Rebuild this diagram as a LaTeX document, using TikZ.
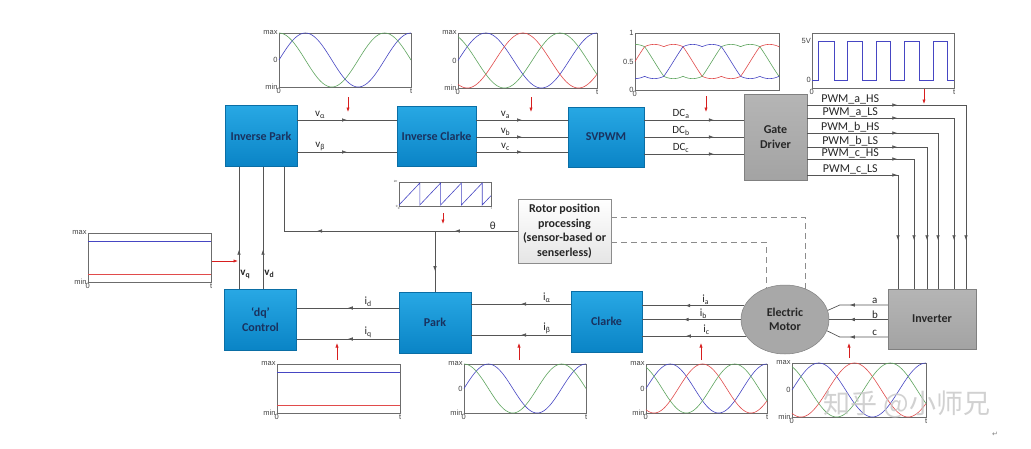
\documentclass[tikz,border=0pt]{standalone}
\usepackage{fontspec}
\setmainfont{Carlito}
\newfontfamily\plotfont{Liberation Sans}
\newfontfamily\cjkfont{Noto Sans CJK SC}
\newfontfamily\symfont{DejaVu Sans}
\usetikzlibrary{shapes.geometric,arrows.meta,positioning,calc,decorations.markings}
\definecolor{blocktop}{RGB}{40,168,228}
\definecolor{blockbot}{RGB}{10,132,198}
\definecolor{blockedge}{RGB}{10,110,165}
\definecolor{navytext}{RGB}{25,50,95}
\definecolor{wiregray}{RGB}{85,85,85}
\definecolor{dashgray}{RGB}{140,140,140}
\definecolor{plotblue}{RGB}{70,70,195}
\definecolor{plotgreen}{RGB}{95,165,95}
\definecolor{plotred}{RGB}{225,75,75}
\definecolor{sigred}{RGB}{215,30,30}

\tikzset{
  wtip/.tip={Latex[length=5pt,width=3.6pt]},
  wire/.style={draw=wiregray, line width=0.7pt},
  midarrow/.style={postaction={decorate}, decoration={markings, mark=at position #1 with {\arrow{wtip}}}},
  midarrow/.default=0.5,
  dashwire/.style={draw=dashgray, line width=0.9pt, dash pattern=on 6pt off 4pt},
  sigarrow/.style={draw=sigred, line width=0.6pt, -{Latex[length=4.5pt,width=3.2pt]}},
  blk/.style={rectangle, draw=blockedge, line width=0.4pt, top color=blocktop, bottom color=blockbot, text=navytext, font=\bfseries\fontsize{12}{14.6}\selectfont, align=center, inner sep=0pt},
  gblk/.style={rectangle, draw=gray, line width=0.5pt, top color=gray!58, bottom color=gray!72, text=black!85, font=\bfseries\fontsize{12}{14.6}\selectfont, align=center, inner sep=0pt},
  motorshape/.style={ellipse, draw=gray, line width=0.5pt, fill=gray!68, text=black!85, font=\bfseries\fontsize{12}{14.6}\selectfont, align=center, minimum width=88pt, minimum height=69pt, inner sep=0pt},
  rotorbox/.style={rectangle, draw=gray!90, line width=0.6pt, top color=white, bottom color=gray!20, text=black!85, font=\bfseries\fontsize{12}{14.6}\selectfont, align=center, inner sep=0pt},
  wlab/.style={font=\fontsize{11}{13}\selectfont, text=black!85, inner sep=1pt},
  pwmlab/.style={font=\fontsize{12}{14}\selectfont, text=black!85, inner sep=1pt},
  pframe/.style={rectangle, draw=gray!85!black, line width=0.5pt, inner sep=0pt, fill=white},
  ticklab/.style={font=\plotfont\fontsize{7.5}{8}\selectfont, text=black!75, inner sep=1pt},
  pblue/.style={draw=plotblue, line width=0.6pt},
  pgreen/.style={draw=plotgreen, line width=0.6pt},
  pred/.style={draw=plotred, line width=0.6pt},
  declare function={dty(\a)=0.5+0.3464*(sin(\a)-(max(sin(\a),sin(\a+120),sin(\a-120))+min(sin(\a),sin(\a+120),sin(\a-120)))/2);}
}

% corner labels of a small plot
\newcommand{\axmarks}[3]{%
  \node[ticklab,left] (#1-hi) at (#1.north west) {#2};
  \node[ticklab,left] (#1-lo) at (#1.south west) {#3};
  \node[ticklab,below] (#1-t0) at (#1.south west) {0};
  \node[ticklab,below] (#1-t1) at (#1.south east) {t};}

\begin{document}
\begin{tikzpicture}[x=1pt,y=-1pt]
\useasboundingbox (0,0) rectangle (1031,448);

% upper chain
\node[blk, minimum width=72pt, minimum height=61pt] (ipark) at (261,136) {Inverse Park};
\node[blk, minimum width=79pt, minimum height=60pt] (iclarke) at (436.5,136) {Inverse Clarke};
\node[blk, minimum width=76pt, minimum height=60pt] (svpwm) at (606,137) {SVPWM};
\node[gblk, minimum width=63pt, minimum height=86pt] (gd) at (775.5,137) {Gate\\Driver};

% lower chain
\node[blk, minimum width=72pt, minimum height=61pt] (dq) at (260.5,319.5) {‘dq’\\Control};
\node[blk, minimum width=72pt, minimum height=61pt] (park) at (435,322.5) {Park};
\node[blk, minimum width=71pt, minimum height=61pt] (clarke) at (606.5,321.5) {Clarke};
\node[motorshape] (motor) at (785,319.5) {Electric\\Motor};
\node[gblk, minimum width=88pt, minimum height=60pt] (inv) at (932,319) {Inverter};
\node[rotorbox, minimum width=93pt, minimum height=64pt] (rotor) at (564.5,231) {Rotor position\\processing\\(sensor-based or\\senserless)};

% voltages
\draw[wire,midarrow] (ipark.east |- 0,120) -- (iclarke.west |- 0,120) node[wlab,above,pos=0.23] {v\textsubscript{α}};
\draw[wire,midarrow] (ipark.east |- 0,152) -- (iclarke.west |- 0,152) node[wlab,above,pos=0.23] {v\textsubscript{β}};
\draw[wire,midarrow] (iclarke.east |- 0,120) -- (svpwm.west |- 0,120) node[wlab,above,pos=0.32] {v\textsubscript{a}};
\draw[wire,midarrow] (iclarke.east |- 0,137) -- (svpwm.west |- 0,137) node[wlab,above,pos=0.32] {v\textsubscript{b}};
\draw[wire,midarrow] (iclarke.east |- 0,152) -- (svpwm.west |- 0,152) node[wlab,above,pos=0.32] {v\textsubscript{c}};
\draw[wire,midarrow=0.7] (svpwm.east |- 0,120) -- (gd.west |- 0,120) node[wlab,above,pos=0.37] {DC\textsubscript{a}};
\draw[wire,midarrow=0.7] (svpwm.east |- 0,137) -- (gd.west |- 0,137) node[wlab,above,pos=0.37] {DC\textsubscript{b}};
\draw[wire,midarrow=0.7] (svpwm.east |- 0,154) -- (gd.west |- 0,154) node[wlab,above,pos=0.37] {DC\textsubscript{c}};

% gate signals
\foreach \yy/\xx/\lab [evaluate=\yy as \pp using {\xx-807+240-\yy}] in
  {105/966/PWM\_a\_HS, 118/954/PWM\_a\_LS, 133/938/PWM\_b\_HS,
   147/927/PWM\_b\_LS, 159/914/PWM\_c\_HS, 175/898/PWM\_c\_LS}{
  \draw[wire, postaction={decorate}, decoration={markings,
      mark=at position 90pt with {\arrow{wtip}},
      mark=at position \pp pt with {\arrow{wtip}}}]
    (gd.east |- 0,\yy) -- (\xx,\yy) -- (inv.north -| \xx,0);
  \path (gd.east |- 0,\yy) ++(43,0) node[pwmlab,above] (pwm\yy) {\lab};
}

% phases into the motor
\draw[wire,midarrow=38pt] (inv.west |- 0,305) -- node[wlab,above,pos=0.27] {a} ++(-48,0) -- (motor.12);
\draw[wire,midarrow=38pt] (inv.west |- motor.east) -- node[wlab,above,pos=0.22] {b} (motor.east);
\draw[wire,midarrow=38pt] (inv.west |- 0,337) -- node[wlab,above,pos=0.27] {c} ++(-48,0) -- (motor.-15);

% currents
\draw[wire,midarrow=0.58] (motor.161.6) -- (clarke.east |- motor.161.6) node[wlab,above,pos=0.38] {i\textsubscript{a}};
\draw[wire,midarrow=0.58] (motor.west) -- (clarke.east |- motor.west) node[wlab,above,pos=0.38] {i\textsubscript{b}};
\draw[wire,midarrow=0.58] (motor.203.1) -- (clarke.east |- motor.203.1) node[wlab,above,pos=0.38] {i\textsubscript{c}};
\draw[wire,midarrow] (clarke.west |- 0,304) -- (park.east |- 0,304) node[wlab,above,pos=0.24] {i\textsubscript{α}};
\draw[wire,midarrow] (clarke.west |- 0,335) -- (park.east |- 0,335) node[wlab,above,pos=0.24] {i\textsubscript{β}};
\draw[wire,midarrow] (park.west |- 0,308) -- (dq.east |- 0,308) node[wlab,above,pos=0.3] {i\textsubscript{d}};
\draw[wire,midarrow] (park.west |- 0,339) -- (dq.east |- 0,339) node[wlab,above,pos=0.3] {i\textsubscript{q}};

% dq voltages up to Inverse Park
\draw[wire,midarrow=0.32] (dq.north -| 239,0) -- (ipark.south -| 239,0) node[wlab,right,pos=0.12,font=\bfseries\fontsize{11}{13}\selectfont] {v\textsubscript{q}};
\draw[wire,midarrow=0.32] (dq.north -| 263,0) -- (ipark.south -| 263,0) node[wlab,right,pos=0.12,font=\bfseries\fontsize{11}{13}\selectfont] {v\textsubscript{d}};

% rotor angle
\coordinate (thj) at (park.north |- rotor.west);
\coordinate (thc) at (thj -| 284,0);
\draw[wire,midarrow=0.76] (rotor.west) -- (thj) node[wlab,above,pos=0.3] {θ};
\draw[wire,midarrow=118pt] (thj) -- (thc) -- (ipark.south -| thc);
\draw[wire,midarrow=0.66] (thj) -- (park.north);

% position feedback
\draw[dashwire] (rotor.east |- 0,217) -| (motor.57);
\draw[dashwire] (rotor.east |- 0,242) -| (motor.121);

% ---- small plots ----
% v alpha / v beta
\node[pframe, minimum width=132pt, minimum height=54pt] (pvab) at (345,60) {};
\draw[pblue] plot[domain=279:411,samples=90,smooth] (\x,{60-27*sin((\x-279)/132*450)});
\draw[pgreen] plot[domain=279:411,samples=90,smooth] (\x,{60-27*cos((\x-279)/132*450)});
\axmarks{pvab}{max}{min}
\node[ticklab,left] (pvab-z) at (pvab.west) {0};

% v a b c
\node[pframe, minimum width=139pt, minimum height=55pt] (pvabc) at (527.5,60.5) {};
\foreach \ph/\cc in {0/pblue,-120/pred,120/pgreen}
  \draw[\cc] plot[domain=458:597,samples=90,smooth] (\x,{60.5-27.5*sin((\x-458)/139*450+\ph)});
\axmarks{pvabc}{max}{min}
\node[ticklab,left] (pvabc-z) at (pvabc.west) {0};

% duty cycles
\node[pframe, minimum width=144pt, minimum height=57pt] (pdc) at (707,61.5) {};
\foreach \ph/\cc in {0/pred,120/pgreen,-120/pblue}
  \draw[\cc] plot[domain=635:779,samples=220] (\x,{90-57*dty((\x-635)/144*450+\ph)});
\node[ticklab,left] (pdc-hi) at (pdc.north west) {1};
\node[ticklab,left] (pdc-z) at (pdc.west) {0.5};
\node[ticklab,left] (pdc-lo) at (pdc.south west) {0};
\node[ticklab,below] (pdc-t0) at (pdc.south west) {0};

% gate pulses
\node[pframe, minimum width=142pt, minimum height=55pt] (ppwm) at (883,60.5) {};
\draw[pblue] (812,80) -- (818,80) -- (818,41) -- (834,41) -- (834,80) -- (847,80) -- (847,41) -- (862,41)
  -- (862,80) -- (876,80) -- (876,41) -- (890,41) -- (890,80) -- (904,80) -- (904,41) -- (919,41)
  -- (919,80) -- (933,80) -- (933,41) -- (947,41) -- (947,80) -- (954,80);
\node[ticklab,left] (ppwm-hi) at (812,41) {5V};
\node[ticklab,left] (ppwm-lo) at (812,80) {0};
\node[ticklab,below] (ppwm-t0) at (ppwm.south west) {0};
\node[ticklab,below] (ppwm-t1) at (ppwm.south east) {t};

% rotor angle
\node[pframe, minimum width=92pt, minimum height=24pt] (psaw) at (445,194) {};
\draw[pblue] (399,205) -- (419.8,183) -- (419.8,205) -- (440.6,183) -- (440.6,205) -- (461.4,183)
  -- (461.4,205) -- (482.2,183) -- (482.2,205) -- (491,195.7);
\node[ticklab,left,font=\plotfont\fontsize{3}{3}\selectfont] (psaw-hi) at (psaw.north west) {2π};
\node[ticklab,left,font=\plotfont\fontsize{3}{3}\selectfont] (psaw-lo) at (psaw.south west) {0};
\node[ticklab,below,font=\plotfont\fontsize{3}{3}\selectfont] (psaw-t0) at (psaw.south west) {0};
\node[ticklab,below,font=\plotfont\fontsize{3}{3}\selectfont] (psaw-t1) at (psaw.south east) {t};

% dq references (left)
\node[pframe, minimum width=123pt, minimum height=49pt] (pref) at (149.5,257.5) {};
\draw[pblue] (88,241) -- (211,241);
\draw[pred] (88,274) -- (211,274);
\axmarks{pref}{max}{min}

% dq currents
\node[pframe, minimum width=123pt, minimum height=49pt] (pidq) at (338.5,388.5) {};
\draw[pblue] (277,372) -- (400,372);
\draw[pred] (277,405) -- (400,405);
\axmarks{pidq}{max}{min}

% alpha beta currents
\node[pframe, minimum width=122pt, minimum height=49pt] (piab) at (525,388.5) {};
\draw[pblue] plot[domain=464:586,samples=90,smooth] (\x,{388.5-24.5*sin((\x-464)/122*450)});
\draw[pgreen] plot[domain=464:586,samples=90,smooth] (\x,{388.5-24.5*cos((\x-464)/122*450)});
\axmarks{piab}{max}{min}
\node[ticklab,left] (piab-z) at (piab.west) {0};

% phase currents
\node[pframe, minimum width=121pt, minimum height=49pt] (piabc) at (706.5,388.5) {};
\foreach \ph/\cc in {0/pblue,-120/pred,120/pgreen}
  \draw[\cc] plot[domain=646:767,samples=90,smooth] (\x,{388.5-24.5*sin((\x-646)/121*450+\ph)});
\axmarks{piabc}{max}{min}
\node[ticklab,left] (piabc-z) at (piabc.west) {0};

% phase voltages
\node[pframe, minimum width=134pt, minimum height=54pt] (puvw) at (859,390) {};
\foreach \ph/\cc in {0/pblue,-120/pred,120/pgreen}
  \draw[\cc] plot[domain=792:926,samples=90,smooth] (\x,{390-27*sin((\x-792)/134*450+\ph)});
\axmarks{puvw}{max}{min}
\node[ticklab,left] (puvw-z) at (puvw.west) {0};

% red markers
\draw[sigarrow] (348,97) -- (348,112);
\draw[sigarrow] (531,97) -- (531,112);
\draw[sigarrow] (706,96) -- (706,112);
\draw[sigarrow] (924,89) -- (924,104);
\draw[sigarrow] (443,213) -- (443,224);
\draw[sigarrow] (212,261) -- (238,261);
\draw[sigarrow] (337,360) -- (337,343);
\draw[sigarrow] (519,360) -- (519,343);
\draw[sigarrow] (701,360) -- (701,343);
\draw[sigarrow] (849,358) -- (849,343);

% watermark
\node[text=gray!45, opacity=0.8, font=\cjkfont\fontsize{27}{30}\selectfont] (wmark) at (907,404) {知乎 @小师兄};
\node[font=\symfont\fontsize{7}{8}\selectfont, text=gray] (retmark) at (995,434) {↵};
\end{tikzpicture}
\end{document}
